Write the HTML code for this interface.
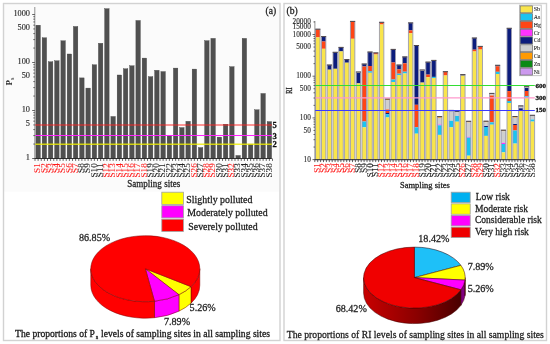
<!DOCTYPE html>
<html><head><meta charset="utf-8"><title>Ps and RI of sampling sites</title>
<style>
html,body{margin:0;padding:0;background:#fff;}
body{width:550px;height:344px;overflow:hidden;}
svg{display:block;font-family:"Liberation Serif", "Times New Roman", serif;}
</style></head><body>
<svg width="550" height="344" viewBox="0 0 550 344">
<rect x="4.2" y="4.2" width="275" height="187.4" fill="#fbfbfb"/>
<rect x="3.5" y="3.5" width="276.5" height="337" fill="none" stroke="#d2d2d2" stroke-width="1.4"/>
<rect x="284" y="3.5" width="262.5" height="337" fill="none" stroke="#d2d2d2" stroke-width="1.4"/>
<rect x="35.90" y="25.20" width="4.45" height="133.30" fill="#505050" stroke="#3a3a3a" stroke-width="0.35"/>
<rect x="42.15" y="37.80" width="4.45" height="120.70" fill="#505050" stroke="#3a3a3a" stroke-width="0.35"/>
<rect x="48.40" y="61.80" width="4.45" height="96.70" fill="#505050" stroke="#3a3a3a" stroke-width="0.35"/>
<rect x="54.65" y="60.80" width="4.45" height="97.70" fill="#505050" stroke="#3a3a3a" stroke-width="0.35"/>
<rect x="60.90" y="40.80" width="4.45" height="117.70" fill="#505050" stroke="#3a3a3a" stroke-width="0.35"/>
<rect x="67.15" y="54.00" width="4.45" height="104.50" fill="#505050" stroke="#3a3a3a" stroke-width="0.35"/>
<rect x="73.40" y="26.50" width="4.45" height="132.00" fill="#505050" stroke="#3a3a3a" stroke-width="0.35"/>
<rect x="79.65" y="77.90" width="4.45" height="80.60" fill="#505050" stroke="#3a3a3a" stroke-width="0.35"/>
<rect x="85.90" y="88.10" width="4.45" height="70.40" fill="#505050" stroke="#3a3a3a" stroke-width="0.35"/>
<rect x="92.15" y="64.80" width="4.45" height="93.70" fill="#505050" stroke="#3a3a3a" stroke-width="0.35"/>
<rect x="98.40" y="43.30" width="4.45" height="115.20" fill="#505050" stroke="#3a3a3a" stroke-width="0.35"/>
<rect x="104.65" y="8.70" width="4.45" height="149.80" fill="#505050" stroke="#3a3a3a" stroke-width="0.35"/>
<rect x="110.90" y="116.50" width="4.45" height="42.00" fill="#505050" stroke="#3a3a3a" stroke-width="0.35"/>
<rect x="117.15" y="75.00" width="4.45" height="83.50" fill="#505050" stroke="#3a3a3a" stroke-width="0.35"/>
<rect x="123.40" y="68.80" width="4.45" height="89.70" fill="#505050" stroke="#3a3a3a" stroke-width="0.35"/>
<rect x="129.65" y="65.80" width="4.45" height="92.70" fill="#505050" stroke="#3a3a3a" stroke-width="0.35"/>
<rect x="135.90" y="20.50" width="4.45" height="138.00" fill="#505050" stroke="#3a3a3a" stroke-width="0.35"/>
<rect x="142.15" y="58.10" width="4.45" height="100.40" fill="#505050" stroke="#3a3a3a" stroke-width="0.35"/>
<rect x="148.40" y="76.70" width="4.45" height="81.80" fill="#505050" stroke="#3a3a3a" stroke-width="0.35"/>
<rect x="154.65" y="70.30" width="4.45" height="88.20" fill="#505050" stroke="#3a3a3a" stroke-width="0.35"/>
<rect x="160.90" y="71.60" width="4.45" height="86.90" fill="#505050" stroke="#3a3a3a" stroke-width="0.35"/>
<rect x="167.15" y="135.70" width="4.45" height="22.80" fill="#505050" stroke="#3a3a3a" stroke-width="0.35"/>
<rect x="173.40" y="68.10" width="4.45" height="90.40" fill="#505050" stroke="#3a3a3a" stroke-width="0.35"/>
<rect x="179.65" y="127.60" width="4.45" height="30.90" fill="#505050" stroke="#3a3a3a" stroke-width="0.35"/>
<rect x="185.90" y="121.30" width="4.45" height="37.20" fill="#505050" stroke="#3a3a3a" stroke-width="0.35"/>
<rect x="192.15" y="69.10" width="4.45" height="89.40" fill="#505050" stroke="#3a3a3a" stroke-width="0.35"/>
<rect x="198.40" y="147.60" width="4.45" height="10.90" fill="#505050" stroke="#3a3a3a" stroke-width="0.35"/>
<rect x="204.65" y="40.70" width="4.45" height="117.80" fill="#505050" stroke="#3a3a3a" stroke-width="0.35"/>
<rect x="210.90" y="38.40" width="4.45" height="120.10" fill="#505050" stroke="#3a3a3a" stroke-width="0.35"/>
<rect x="217.15" y="137.10" width="4.45" height="21.40" fill="#505050" stroke="#3a3a3a" stroke-width="0.35"/>
<rect x="223.40" y="124.20" width="4.45" height="34.30" fill="#505050" stroke="#3a3a3a" stroke-width="0.35"/>
<rect x="229.65" y="66.70" width="4.45" height="91.80" fill="#505050" stroke="#3a3a3a" stroke-width="0.35"/>
<rect x="235.90" y="155.50" width="4.45" height="3.00" fill="#505050" stroke="#3a3a3a" stroke-width="0.35"/>
<rect x="242.15" y="38.40" width="4.45" height="120.10" fill="#505050" stroke="#3a3a3a" stroke-width="0.35"/>
<rect x="248.40" y="144.10" width="4.45" height="14.40" fill="#505050" stroke="#3a3a3a" stroke-width="0.35"/>
<rect x="254.65" y="109.80" width="4.45" height="48.70" fill="#505050" stroke="#3a3a3a" stroke-width="0.35"/>
<rect x="260.90" y="93.50" width="4.45" height="65.00" fill="#505050" stroke="#3a3a3a" stroke-width="0.35"/>
<rect x="267.15" y="121.60" width="4.45" height="36.90" fill="#505050" stroke="#3a3a3a" stroke-width="0.35"/>
<line x1="35" y1="125" x2="271.8" y2="125" stroke="#ff2020" stroke-width="1.3" stroke-opacity="0.62"/>
<line x1="35" y1="135.5" x2="271.8" y2="135.5" stroke="#ff22ff" stroke-width="1.1" stroke-opacity="1"/>
<line x1="35" y1="144.2" x2="271.8" y2="144.2" stroke="#eeee00" stroke-width="1.4" stroke-opacity="0.8"/>
<line x1="34.8" y1="7" x2="34.8" y2="159.0" stroke="#777" stroke-width="0.8"/>
<line x1="34.8" y1="158.5" x2="271.8" y2="158.5" stroke="#222" stroke-width="0.9"/>
<line x1="32.20" y1="158.50" x2="34.8" y2="158.50" stroke="#222" stroke-width="0.7"/>
<line x1="33.30" y1="144.05" x2="34.8" y2="144.05" stroke="#222" stroke-width="0.7"/>
<line x1="33.30" y1="135.60" x2="34.8" y2="135.60" stroke="#222" stroke-width="0.7"/>
<line x1="33.30" y1="129.60" x2="34.8" y2="129.60" stroke="#222" stroke-width="0.7"/>
<line x1="33.30" y1="124.95" x2="34.8" y2="124.95" stroke="#222" stroke-width="0.7"/>
<line x1="33.30" y1="121.15" x2="34.8" y2="121.15" stroke="#222" stroke-width="0.7"/>
<line x1="33.30" y1="117.94" x2="34.8" y2="117.94" stroke="#222" stroke-width="0.7"/>
<line x1="33.30" y1="115.15" x2="34.8" y2="115.15" stroke="#222" stroke-width="0.7"/>
<line x1="33.30" y1="112.70" x2="34.8" y2="112.70" stroke="#222" stroke-width="0.7"/>
<line x1="32.20" y1="110.50" x2="34.8" y2="110.50" stroke="#222" stroke-width="0.7"/>
<line x1="33.30" y1="96.05" x2="34.8" y2="96.05" stroke="#222" stroke-width="0.7"/>
<line x1="33.30" y1="87.60" x2="34.8" y2="87.60" stroke="#222" stroke-width="0.7"/>
<line x1="33.30" y1="81.60" x2="34.8" y2="81.60" stroke="#222" stroke-width="0.7"/>
<line x1="33.30" y1="76.95" x2="34.8" y2="76.95" stroke="#222" stroke-width="0.7"/>
<line x1="33.30" y1="73.15" x2="34.8" y2="73.15" stroke="#222" stroke-width="0.7"/>
<line x1="33.30" y1="69.94" x2="34.8" y2="69.94" stroke="#222" stroke-width="0.7"/>
<line x1="33.30" y1="67.15" x2="34.8" y2="67.15" stroke="#222" stroke-width="0.7"/>
<line x1="33.30" y1="64.70" x2="34.8" y2="64.70" stroke="#222" stroke-width="0.7"/>
<line x1="32.20" y1="62.50" x2="34.8" y2="62.50" stroke="#222" stroke-width="0.7"/>
<line x1="33.30" y1="48.05" x2="34.8" y2="48.05" stroke="#222" stroke-width="0.7"/>
<line x1="33.30" y1="39.60" x2="34.8" y2="39.60" stroke="#222" stroke-width="0.7"/>
<line x1="33.30" y1="33.60" x2="34.8" y2="33.60" stroke="#222" stroke-width="0.7"/>
<line x1="33.30" y1="28.95" x2="34.8" y2="28.95" stroke="#222" stroke-width="0.7"/>
<line x1="33.30" y1="25.15" x2="34.8" y2="25.15" stroke="#222" stroke-width="0.7"/>
<line x1="33.30" y1="21.94" x2="34.8" y2="21.94" stroke="#222" stroke-width="0.7"/>
<line x1="33.30" y1="19.15" x2="34.8" y2="19.15" stroke="#222" stroke-width="0.7"/>
<line x1="33.30" y1="16.70" x2="34.8" y2="16.70" stroke="#222" stroke-width="0.7"/>
<line x1="32.20" y1="14.50" x2="34.8" y2="14.50" stroke="#222" stroke-width="0.7"/>
<line x1="35.00" y1="158.5" x2="35.00" y2="160.9" stroke="#222" stroke-width="0.7"/>
<line x1="38.12" y1="158.5" x2="38.12" y2="160.9" stroke="#222" stroke-width="0.7"/>
<line x1="41.25" y1="158.5" x2="41.25" y2="160.9" stroke="#222" stroke-width="0.7"/>
<line x1="44.38" y1="158.5" x2="44.38" y2="160.9" stroke="#222" stroke-width="0.7"/>
<line x1="47.50" y1="158.5" x2="47.50" y2="160.9" stroke="#222" stroke-width="0.7"/>
<line x1="50.62" y1="158.5" x2="50.62" y2="160.9" stroke="#222" stroke-width="0.7"/>
<line x1="53.75" y1="158.5" x2="53.75" y2="160.9" stroke="#222" stroke-width="0.7"/>
<line x1="56.88" y1="158.5" x2="56.88" y2="160.9" stroke="#222" stroke-width="0.7"/>
<line x1="60.00" y1="158.5" x2="60.00" y2="160.9" stroke="#222" stroke-width="0.7"/>
<line x1="63.12" y1="158.5" x2="63.12" y2="160.9" stroke="#222" stroke-width="0.7"/>
<line x1="66.25" y1="158.5" x2="66.25" y2="160.9" stroke="#222" stroke-width="0.7"/>
<line x1="69.38" y1="158.5" x2="69.38" y2="160.9" stroke="#222" stroke-width="0.7"/>
<line x1="72.50" y1="158.5" x2="72.50" y2="160.9" stroke="#222" stroke-width="0.7"/>
<line x1="75.62" y1="158.5" x2="75.62" y2="160.9" stroke="#222" stroke-width="0.7"/>
<line x1="78.75" y1="158.5" x2="78.75" y2="160.9" stroke="#222" stroke-width="0.7"/>
<line x1="81.88" y1="158.5" x2="81.88" y2="160.9" stroke="#222" stroke-width="0.7"/>
<line x1="85.00" y1="158.5" x2="85.00" y2="160.9" stroke="#222" stroke-width="0.7"/>
<line x1="88.12" y1="158.5" x2="88.12" y2="160.9" stroke="#222" stroke-width="0.7"/>
<line x1="91.25" y1="158.5" x2="91.25" y2="160.9" stroke="#222" stroke-width="0.7"/>
<line x1="94.38" y1="158.5" x2="94.38" y2="160.9" stroke="#222" stroke-width="0.7"/>
<line x1="97.50" y1="158.5" x2="97.50" y2="160.9" stroke="#222" stroke-width="0.7"/>
<line x1="100.62" y1="158.5" x2="100.62" y2="160.9" stroke="#222" stroke-width="0.7"/>
<line x1="103.75" y1="158.5" x2="103.75" y2="160.9" stroke="#222" stroke-width="0.7"/>
<line x1="106.88" y1="158.5" x2="106.88" y2="160.9" stroke="#222" stroke-width="0.7"/>
<line x1="110.00" y1="158.5" x2="110.00" y2="160.9" stroke="#222" stroke-width="0.7"/>
<line x1="113.12" y1="158.5" x2="113.12" y2="160.9" stroke="#222" stroke-width="0.7"/>
<line x1="116.25" y1="158.5" x2="116.25" y2="160.9" stroke="#222" stroke-width="0.7"/>
<line x1="119.38" y1="158.5" x2="119.38" y2="160.9" stroke="#222" stroke-width="0.7"/>
<line x1="122.50" y1="158.5" x2="122.50" y2="160.9" stroke="#222" stroke-width="0.7"/>
<line x1="125.62" y1="158.5" x2="125.62" y2="160.9" stroke="#222" stroke-width="0.7"/>
<line x1="128.75" y1="158.5" x2="128.75" y2="160.9" stroke="#222" stroke-width="0.7"/>
<line x1="131.88" y1="158.5" x2="131.88" y2="160.9" stroke="#222" stroke-width="0.7"/>
<line x1="135.00" y1="158.5" x2="135.00" y2="160.9" stroke="#222" stroke-width="0.7"/>
<line x1="138.12" y1="158.5" x2="138.12" y2="160.9" stroke="#222" stroke-width="0.7"/>
<line x1="141.25" y1="158.5" x2="141.25" y2="160.9" stroke="#222" stroke-width="0.7"/>
<line x1="144.38" y1="158.5" x2="144.38" y2="160.9" stroke="#222" stroke-width="0.7"/>
<line x1="147.50" y1="158.5" x2="147.50" y2="160.9" stroke="#222" stroke-width="0.7"/>
<line x1="150.62" y1="158.5" x2="150.62" y2="160.9" stroke="#222" stroke-width="0.7"/>
<line x1="153.75" y1="158.5" x2="153.75" y2="160.9" stroke="#222" stroke-width="0.7"/>
<line x1="156.88" y1="158.5" x2="156.88" y2="160.9" stroke="#222" stroke-width="0.7"/>
<line x1="160.00" y1="158.5" x2="160.00" y2="160.9" stroke="#222" stroke-width="0.7"/>
<line x1="163.12" y1="158.5" x2="163.12" y2="160.9" stroke="#222" stroke-width="0.7"/>
<line x1="166.25" y1="158.5" x2="166.25" y2="160.9" stroke="#222" stroke-width="0.7"/>
<line x1="169.38" y1="158.5" x2="169.38" y2="160.9" stroke="#222" stroke-width="0.7"/>
<line x1="172.50" y1="158.5" x2="172.50" y2="160.9" stroke="#222" stroke-width="0.7"/>
<line x1="175.62" y1="158.5" x2="175.62" y2="160.9" stroke="#222" stroke-width="0.7"/>
<line x1="178.75" y1="158.5" x2="178.75" y2="160.9" stroke="#222" stroke-width="0.7"/>
<line x1="181.88" y1="158.5" x2="181.88" y2="160.9" stroke="#222" stroke-width="0.7"/>
<line x1="185.00" y1="158.5" x2="185.00" y2="160.9" stroke="#222" stroke-width="0.7"/>
<line x1="188.12" y1="158.5" x2="188.12" y2="160.9" stroke="#222" stroke-width="0.7"/>
<line x1="191.25" y1="158.5" x2="191.25" y2="160.9" stroke="#222" stroke-width="0.7"/>
<line x1="194.38" y1="158.5" x2="194.38" y2="160.9" stroke="#222" stroke-width="0.7"/>
<line x1="197.50" y1="158.5" x2="197.50" y2="160.9" stroke="#222" stroke-width="0.7"/>
<line x1="200.62" y1="158.5" x2="200.62" y2="160.9" stroke="#222" stroke-width="0.7"/>
<line x1="203.75" y1="158.5" x2="203.75" y2="160.9" stroke="#222" stroke-width="0.7"/>
<line x1="206.88" y1="158.5" x2="206.88" y2="160.9" stroke="#222" stroke-width="0.7"/>
<line x1="210.00" y1="158.5" x2="210.00" y2="160.9" stroke="#222" stroke-width="0.7"/>
<line x1="213.12" y1="158.5" x2="213.12" y2="160.9" stroke="#222" stroke-width="0.7"/>
<line x1="216.25" y1="158.5" x2="216.25" y2="160.9" stroke="#222" stroke-width="0.7"/>
<line x1="219.38" y1="158.5" x2="219.38" y2="160.9" stroke="#222" stroke-width="0.7"/>
<line x1="222.50" y1="158.5" x2="222.50" y2="160.9" stroke="#222" stroke-width="0.7"/>
<line x1="225.62" y1="158.5" x2="225.62" y2="160.9" stroke="#222" stroke-width="0.7"/>
<line x1="228.75" y1="158.5" x2="228.75" y2="160.9" stroke="#222" stroke-width="0.7"/>
<line x1="231.88" y1="158.5" x2="231.88" y2="160.9" stroke="#222" stroke-width="0.7"/>
<line x1="235.00" y1="158.5" x2="235.00" y2="160.9" stroke="#222" stroke-width="0.7"/>
<line x1="238.12" y1="158.5" x2="238.12" y2="160.9" stroke="#222" stroke-width="0.7"/>
<line x1="241.25" y1="158.5" x2="241.25" y2="160.9" stroke="#222" stroke-width="0.7"/>
<line x1="244.38" y1="158.5" x2="244.38" y2="160.9" stroke="#222" stroke-width="0.7"/>
<line x1="247.50" y1="158.5" x2="247.50" y2="160.9" stroke="#222" stroke-width="0.7"/>
<line x1="250.62" y1="158.5" x2="250.62" y2="160.9" stroke="#222" stroke-width="0.7"/>
<line x1="253.75" y1="158.5" x2="253.75" y2="160.9" stroke="#222" stroke-width="0.7"/>
<line x1="256.88" y1="158.5" x2="256.88" y2="160.9" stroke="#222" stroke-width="0.7"/>
<line x1="260.00" y1="158.5" x2="260.00" y2="160.9" stroke="#222" stroke-width="0.7"/>
<line x1="263.12" y1="158.5" x2="263.12" y2="160.9" stroke="#222" stroke-width="0.7"/>
<line x1="266.25" y1="158.5" x2="266.25" y2="160.9" stroke="#222" stroke-width="0.7"/>
<line x1="269.38" y1="158.5" x2="269.38" y2="160.9" stroke="#222" stroke-width="0.7"/>
<line x1="272.50" y1="158.5" x2="272.50" y2="160.9" stroke="#222" stroke-width="0.7"/>
<text x="30.00" y="15.70" font-size="8.3" text-anchor="end" fill="#2a2a2a" stroke="#2a2a2a" stroke-width="0.15" font-weight="normal" >1000</text>
<text x="30.00" y="29.60" font-size="8.3" text-anchor="end" fill="#2a2a2a" stroke="#2a2a2a" stroke-width="0.15" font-weight="normal" >500</text>
<text x="30.00" y="64.00" font-size="8.3" text-anchor="end" fill="#2a2a2a" stroke="#2a2a2a" stroke-width="0.15" font-weight="normal" >100</text>
<text x="30.00" y="78.20" font-size="8.3" text-anchor="end" fill="#2a2a2a" stroke="#2a2a2a" stroke-width="0.15" font-weight="normal" >50</text>
<text x="30.00" y="111.60" font-size="8.3" text-anchor="end" fill="#2a2a2a" stroke="#2a2a2a" stroke-width="0.15" font-weight="normal" >10</text>
<text x="30.00" y="126.30" font-size="8.3" text-anchor="end" fill="#2a2a2a" stroke="#2a2a2a" stroke-width="0.15" font-weight="normal" >5</text>
<text x="30.00" y="159.60" font-size="8.3" text-anchor="end" fill="#2a2a2a" stroke="#2a2a2a" stroke-width="0.15" font-weight="normal" >1</text>
<text x="272.60" y="128.30" font-size="8.6" text-anchor="start" fill="#111" stroke="#111" stroke-width="0.27" font-weight="bold" >5</text>
<text x="272.60" y="138.90" font-size="8.6" text-anchor="start" fill="#111" stroke="#111" stroke-width="0.27" font-weight="bold" >3</text>
<text x="272.60" y="147.30" font-size="8.6" text-anchor="start" fill="#111" stroke="#111" stroke-width="0.27" font-weight="bold" >2</text>
<text transform="translate(40.38,163.2) rotate(-90) scale(1,0.9)" font-size="9.2" text-anchor="end" fill="#ff1a1a" stroke="#ff1a1a" stroke-width="0.06">S1</text>
<text transform="translate(46.62,163.2) rotate(-90) scale(1,0.9)" font-size="9.2" text-anchor="end" fill="#ff1a1a" stroke="#ff1a1a" stroke-width="0.06">S2</text>
<text transform="translate(52.88,163.2) rotate(-90) scale(1,0.9)" font-size="9.2" text-anchor="end" fill="#ff1a1a" stroke="#ff1a1a" stroke-width="0.06">S3</text>
<text transform="translate(59.12,163.2) rotate(-90) scale(1,0.9)" font-size="9.2" text-anchor="end" fill="#ff1a1a" stroke="#ff1a1a" stroke-width="0.06">S4</text>
<text transform="translate(65.38,163.2) rotate(-90) scale(1,0.9)" font-size="9.2" text-anchor="end" fill="#ff1a1a" stroke="#ff1a1a" stroke-width="0.06">S5</text>
<text transform="translate(71.62,163.2) rotate(-90) scale(1,0.9)" font-size="9.2" text-anchor="end" fill="#ff1a1a" stroke="#ff1a1a" stroke-width="0.06">S6</text>
<text transform="translate(77.88,163.2) rotate(-90) scale(1,0.9)" font-size="9.2" text-anchor="end" fill="#ff1a1a" stroke="#ff1a1a" stroke-width="0.06">S7</text>
<text transform="translate(84.12,163.2) rotate(-90) scale(1,0.9)" font-size="9.2" text-anchor="end" fill="#222" stroke="#222" stroke-width="0.06">S8</text>
<text transform="translate(90.38,163.2) rotate(-90) scale(1,0.9)" font-size="9.2" text-anchor="end" fill="#222" stroke="#222" stroke-width="0.06">S9</text>
<text transform="translate(96.62,163.2) rotate(-90) scale(1,0.9)" font-size="9.2" text-anchor="end" fill="#222" stroke="#222" stroke-width="0.06">S10</text>
<text transform="translate(102.88,163.2) rotate(-90) scale(1,0.9)" font-size="9.2" text-anchor="end" fill="#222" stroke="#222" stroke-width="0.06">S11</text>
<text transform="translate(109.12,163.2) rotate(-90) scale(1,0.9)" font-size="9.2" text-anchor="end" fill="#ff1a1a" stroke="#ff1a1a" stroke-width="0.06">S12</text>
<text transform="translate(115.38,163.2) rotate(-90) scale(1,0.9)" font-size="9.2" text-anchor="end" fill="#ff1a1a" stroke="#ff1a1a" stroke-width="0.06">S13</text>
<text transform="translate(121.62,163.2) rotate(-90) scale(1,0.9)" font-size="9.2" text-anchor="end" fill="#ff1a1a" stroke="#ff1a1a" stroke-width="0.06">S14</text>
<text transform="translate(127.88,163.2) rotate(-90) scale(1,0.9)" font-size="9.2" text-anchor="end" fill="#ff1a1a" stroke="#ff1a1a" stroke-width="0.06">S15</text>
<text transform="translate(134.12,163.2) rotate(-90) scale(1,0.9)" font-size="9.2" text-anchor="end" fill="#ff1a1a" stroke="#ff1a1a" stroke-width="0.06">S16</text>
<text transform="translate(140.38,163.2) rotate(-90) scale(1,0.9)" font-size="9.2" text-anchor="end" fill="#ff1a1a" stroke="#ff1a1a" stroke-width="0.06">S17</text>
<text transform="translate(146.62,163.2) rotate(-90) scale(1,0.9)" font-size="9.2" text-anchor="end" fill="#ff1a1a" stroke="#ff1a1a" stroke-width="0.06">S18</text>
<text transform="translate(152.88,163.2) rotate(-90) scale(1,0.9)" font-size="9.2" text-anchor="end" fill="#222" stroke="#222" stroke-width="0.06">S19</text>
<text transform="translate(159.12,163.2) rotate(-90) scale(1,0.9)" font-size="9.2" text-anchor="end" fill="#222" stroke="#222" stroke-width="0.06">S20</text>
<text transform="translate(165.38,163.2) rotate(-90) scale(1,0.9)" font-size="9.2" text-anchor="end" fill="#222" stroke="#222" stroke-width="0.06">S21</text>
<text transform="translate(171.62,163.2) rotate(-90) scale(1,0.9)" font-size="9.2" text-anchor="end" fill="#222" stroke="#222" stroke-width="0.06">S22</text>
<text transform="translate(177.88,163.2) rotate(-90) scale(1,0.9)" font-size="9.2" text-anchor="end" fill="#222" stroke="#222" stroke-width="0.06">S23</text>
<text transform="translate(184.12,163.2) rotate(-90) scale(1,0.9)" font-size="9.2" text-anchor="end" fill="#222" stroke="#222" stroke-width="0.06">S24</text>
<text transform="translate(190.38,163.2) rotate(-90) scale(1,0.9)" font-size="9.2" text-anchor="end" fill="#222" stroke="#222" stroke-width="0.06">S25</text>
<text transform="translate(196.62,163.2) rotate(-90) scale(1,0.9)" font-size="9.2" text-anchor="end" fill="#ff1a1a" stroke="#ff1a1a" stroke-width="0.06">S26</text>
<text transform="translate(202.88,163.2) rotate(-90) scale(1,0.9)" font-size="9.2" text-anchor="end" fill="#222" stroke="#222" stroke-width="0.06">S27</text>
<text transform="translate(209.12,163.2) rotate(-90) scale(1,0.9)" font-size="9.2" text-anchor="end" fill="#ff1a1a" stroke="#ff1a1a" stroke-width="0.06">S28</text>
<text transform="translate(215.38,163.2) rotate(-90) scale(1,0.9)" font-size="9.2" text-anchor="end" fill="#ff1a1a" stroke="#ff1a1a" stroke-width="0.06">S29</text>
<text transform="translate(221.62,163.2) rotate(-90) scale(1,0.9)" font-size="9.2" text-anchor="end" fill="#222" stroke="#222" stroke-width="0.06">S30</text>
<text transform="translate(227.88,163.2) rotate(-90) scale(1,0.9)" font-size="9.2" text-anchor="end" fill="#222" stroke="#222" stroke-width="0.06">S31</text>
<text transform="translate(234.12,163.2) rotate(-90) scale(1,0.9)" font-size="9.2" text-anchor="end" fill="#ff1a1a" stroke="#ff1a1a" stroke-width="0.06">S32</text>
<text transform="translate(240.38,163.2) rotate(-90) scale(1,0.9)" font-size="9.2" text-anchor="end" fill="#222" stroke="#222" stroke-width="0.06">S33</text>
<text transform="translate(246.62,163.2) rotate(-90) scale(1,0.9)" font-size="9.2" text-anchor="end" fill="#222" stroke="#222" stroke-width="0.06">S34</text>
<text transform="translate(252.88,163.2) rotate(-90) scale(1,0.9)" font-size="9.2" text-anchor="end" fill="#222" stroke="#222" stroke-width="0.06">S35</text>
<text transform="translate(259.12,163.2) rotate(-90) scale(1,0.9)" font-size="9.2" text-anchor="end" fill="#222" stroke="#222" stroke-width="0.06">S36</text>
<text transform="translate(265.38,163.2) rotate(-90) scale(1,0.9)" font-size="9.2" text-anchor="end" fill="#222" stroke="#222" stroke-width="0.06">S37</text>
<text transform="translate(271.62,163.2) rotate(-90) scale(1,0.9)" font-size="9.2" text-anchor="end" fill="#222" stroke="#222" stroke-width="0.06">S38</text>
<text transform="translate(127.3,187.3) scale(0.885,1)" font-size="10.2" fill="#222" stroke="#222" stroke-width="0.27">Sampling sites</text>
<text transform="translate(11.9,85.6) rotate(-90)" font-size="9" fill="#222" font-weight="bold">P<tspan font-size="6.3" dy="2.5" font-weight="normal">s</tspan></text>
<text x="265.60" y="13.60" font-size="9.5" text-anchor="start" fill="#222" stroke="#222" stroke-width="0.27" font-weight="normal" >(a)</text>
<rect x="315.60" y="29.20" width="4.45" height="8.20" fill="#ff4515"/>
<rect x="315.60" y="37.40" width="4.45" height="122.30" fill="#f9e54c"/>
<rect x="315.60" y="29.20" width="4.45" height="130.50" fill="none" stroke="#9c9cae" stroke-width="0.9"/>
<line x1="315.30" y1="29.20" x2="320.35" y2="29.20" stroke="#3a3030" stroke-width="0.8"/>
<rect x="321.40" y="36.60" width="4.45" height="4.90" fill="#0c1c7c"/>
<rect x="321.40" y="41.50" width="4.45" height="7.30" fill="#ff4515"/>
<rect x="321.40" y="48.80" width="4.45" height="110.90" fill="#f9e54c"/>
<rect x="321.40" y="36.60" width="4.45" height="123.10" fill="none" stroke="#9c9cae" stroke-width="0.9"/>
<line x1="321.10" y1="36.60" x2="326.15" y2="36.60" stroke="#3a3030" stroke-width="0.8"/>
<rect x="327.20" y="65.00" width="4.45" height="4.70" fill="#0c1c7c"/>
<rect x="327.20" y="69.70" width="4.45" height="90.00" fill="#f9e54c"/>
<rect x="327.20" y="65.00" width="4.45" height="94.70" fill="none" stroke="#9c9cae" stroke-width="0.9"/>
<line x1="326.90" y1="65.00" x2="331.95" y2="65.00" stroke="#3a3030" stroke-width="0.8"/>
<rect x="333.00" y="52.30" width="4.45" height="16.50" fill="#0c1c7c"/>
<rect x="333.00" y="68.80" width="4.45" height="90.90" fill="#f9e54c"/>
<rect x="333.00" y="52.30" width="4.45" height="107.40" fill="none" stroke="#9c9cae" stroke-width="0.9"/>
<line x1="332.70" y1="52.30" x2="337.75" y2="52.30" stroke="#3a3030" stroke-width="0.8"/>
<rect x="338.80" y="47.40" width="4.45" height="4.00" fill="#0c1c7c"/>
<rect x="338.80" y="51.40" width="4.45" height="108.30" fill="#f9e54c"/>
<rect x="338.80" y="47.40" width="4.45" height="112.30" fill="none" stroke="#9c9cae" stroke-width="0.9"/>
<line x1="338.50" y1="47.40" x2="343.55" y2="47.40" stroke="#3a3030" stroke-width="0.8"/>
<rect x="344.60" y="59.60" width="4.45" height="3.10" fill="#0c1c7c"/>
<rect x="344.60" y="62.70" width="4.45" height="97.00" fill="#f9e54c"/>
<rect x="344.60" y="59.60" width="4.45" height="100.10" fill="none" stroke="#9c9cae" stroke-width="0.9"/>
<line x1="344.30" y1="59.60" x2="349.35" y2="59.60" stroke="#3a3030" stroke-width="0.8"/>
<rect x="350.40" y="21.40" width="4.45" height="17.40" fill="#ff4515"/>
<rect x="350.40" y="38.80" width="4.45" height="120.90" fill="#f9e54c"/>
<rect x="350.40" y="21.40" width="4.45" height="138.30" fill="none" stroke="#9c9cae" stroke-width="0.9"/>
<line x1="350.10" y1="21.40" x2="355.15" y2="21.40" stroke="#3a3030" stroke-width="0.8"/>
<rect x="356.20" y="72.00" width="4.45" height="1.00" fill="#cfcfcf"/>
<rect x="356.20" y="73.00" width="4.45" height="10.40" fill="#0c1c7c"/>
<rect x="356.20" y="83.40" width="4.45" height="76.30" fill="#f9e54c"/>
<rect x="356.20" y="72.00" width="4.45" height="87.70" fill="none" stroke="#9c9cae" stroke-width="0.9"/>
<line x1="355.90" y1="72.00" x2="360.95" y2="72.00" stroke="#3a3030" stroke-width="0.8"/>
<rect x="362.00" y="64.00" width="4.45" height="2.50" fill="#0c1c7c"/>
<rect x="362.00" y="66.50" width="4.45" height="55.00" fill="#ff4515"/>
<rect x="362.00" y="121.50" width="4.45" height="5.90" fill="#1cc4f0"/>
<rect x="362.00" y="127.40" width="4.45" height="32.30" fill="#f9e54c"/>
<rect x="362.00" y="64.00" width="4.45" height="95.70" fill="none" stroke="#9c9cae" stroke-width="0.9"/>
<line x1="361.70" y1="64.00" x2="366.75" y2="64.00" stroke="#3a3030" stroke-width="0.8"/>
<rect x="367.80" y="52.00" width="4.45" height="14.00" fill="#0c1c7c"/>
<rect x="367.80" y="66.00" width="4.45" height="5.20" fill="#ff4515"/>
<rect x="367.80" y="71.20" width="4.45" height="1.60" fill="#1cc4f0"/>
<rect x="367.80" y="72.80" width="4.45" height="86.90" fill="#f9e54c"/>
<rect x="367.80" y="52.00" width="4.45" height="107.70" fill="none" stroke="#9c9cae" stroke-width="0.9"/>
<line x1="367.50" y1="52.00" x2="372.55" y2="52.00" stroke="#3a3030" stroke-width="0.8"/>
<rect x="373.60" y="52.90" width="4.45" height="1.60" fill="#ff4515"/>
<rect x="373.60" y="54.50" width="4.45" height="105.20" fill="#f9e54c"/>
<rect x="373.60" y="52.90" width="4.45" height="106.80" fill="none" stroke="#9c9cae" stroke-width="0.9"/>
<line x1="373.30" y1="52.90" x2="378.35" y2="52.90" stroke="#3a3030" stroke-width="0.8"/>
<rect x="379.40" y="22.30" width="4.45" height="2.20" fill="#ff4515"/>
<rect x="379.40" y="24.50" width="4.45" height="135.20" fill="#f9e54c"/>
<rect x="379.40" y="22.30" width="4.45" height="137.40" fill="none" stroke="#9c9cae" stroke-width="0.9"/>
<line x1="379.10" y1="22.30" x2="384.15" y2="22.30" stroke="#3a3030" stroke-width="0.8"/>
<rect x="385.20" y="99.00" width="4.45" height="1.00" fill="#ff9a00"/>
<rect x="385.20" y="100.00" width="4.45" height="9.50" fill="#cfcfcf"/>
<rect x="385.20" y="109.50" width="4.45" height="3.50" fill="#ff4515"/>
<rect x="385.20" y="113.00" width="4.45" height="1.20" fill="#0c1c7c"/>
<rect x="385.20" y="114.20" width="4.45" height="3.30" fill="#1cc4f0"/>
<rect x="385.20" y="117.50" width="4.45" height="42.20" fill="#f9e54c"/>
<rect x="385.20" y="99.00" width="4.45" height="60.70" fill="none" stroke="#9c9cae" stroke-width="0.9"/>
<line x1="384.90" y1="99.00" x2="389.95" y2="99.00" stroke="#3a3030" stroke-width="0.8"/>
<rect x="391.00" y="49.40" width="4.45" height="13.10" fill="#0c1c7c"/>
<rect x="391.00" y="62.50" width="4.45" height="17.00" fill="#ff4515"/>
<rect x="391.00" y="79.50" width="4.45" height="2.50" fill="#1cc4f0"/>
<rect x="391.00" y="82.00" width="4.45" height="77.70" fill="#f9e54c"/>
<rect x="391.00" y="49.40" width="4.45" height="110.30" fill="none" stroke="#9c9cae" stroke-width="0.9"/>
<line x1="390.70" y1="49.40" x2="395.75" y2="49.40" stroke="#3a3030" stroke-width="0.8"/>
<rect x="396.80" y="65.00" width="4.45" height="4.40" fill="#0c1c7c"/>
<rect x="396.80" y="69.40" width="4.45" height="4.30" fill="#ff4515"/>
<rect x="396.80" y="73.70" width="4.45" height="1.30" fill="#1cc4f0"/>
<rect x="396.80" y="75.00" width="4.45" height="84.70" fill="#f9e54c"/>
<rect x="396.80" y="65.00" width="4.45" height="94.70" fill="none" stroke="#9c9cae" stroke-width="0.9"/>
<line x1="396.50" y1="65.00" x2="401.55" y2="65.00" stroke="#3a3030" stroke-width="0.8"/>
<rect x="402.60" y="56.90" width="4.45" height="6.40" fill="#0c1c7c"/>
<rect x="402.60" y="63.30" width="4.45" height="8.40" fill="#ff4515"/>
<rect x="402.60" y="71.70" width="4.45" height="1.80" fill="#1cc4f0"/>
<rect x="402.60" y="73.50" width="4.45" height="86.20" fill="#f9e54c"/>
<rect x="402.60" y="56.90" width="4.45" height="102.80" fill="none" stroke="#9c9cae" stroke-width="0.9"/>
<line x1="402.30" y1="56.90" x2="407.35" y2="56.90" stroke="#3a3030" stroke-width="0.8"/>
<rect x="408.40" y="22.90" width="4.45" height="7.50" fill="#0c1c7c"/>
<rect x="408.40" y="30.40" width="4.45" height="2.90" fill="#ff4515"/>
<rect x="408.40" y="33.30" width="4.45" height="126.40" fill="#f9e54c"/>
<rect x="408.40" y="22.90" width="4.45" height="136.80" fill="none" stroke="#9c9cae" stroke-width="0.9"/>
<line x1="408.10" y1="22.90" x2="413.15" y2="22.90" stroke="#3a3030" stroke-width="0.8"/>
<rect x="414.20" y="45.50" width="4.45" height="59.30" fill="#0c1c7c"/>
<rect x="414.20" y="104.80" width="4.45" height="22.50" fill="#ff4515"/>
<rect x="414.20" y="127.30" width="4.45" height="6.40" fill="#1cc4f0"/>
<rect x="414.20" y="133.70" width="4.45" height="26.00" fill="#f9e54c"/>
<rect x="414.20" y="45.50" width="4.45" height="114.20" fill="none" stroke="#9c9cae" stroke-width="0.9"/>
<line x1="413.90" y1="45.50" x2="418.95" y2="45.50" stroke="#3a3030" stroke-width="0.8"/>
<rect x="420.00" y="70.00" width="4.45" height="1.00" fill="#cfcfcf"/>
<rect x="420.00" y="71.00" width="4.45" height="11.60" fill="#0c1c7c"/>
<rect x="420.00" y="82.60" width="4.45" height="77.10" fill="#f9e54c"/>
<rect x="420.00" y="70.00" width="4.45" height="89.70" fill="none" stroke="#9c9cae" stroke-width="0.9"/>
<line x1="419.70" y1="70.00" x2="424.75" y2="70.00" stroke="#3a3030" stroke-width="0.8"/>
<rect x="425.80" y="62.10" width="4.45" height="12.50" fill="#0c1c7c"/>
<rect x="425.80" y="74.60" width="4.45" height="2.60" fill="#ff4515"/>
<rect x="425.80" y="77.20" width="4.45" height="82.50" fill="#f9e54c"/>
<rect x="425.80" y="62.10" width="4.45" height="97.60" fill="none" stroke="#9c9cae" stroke-width="0.9"/>
<line x1="425.50" y1="62.10" x2="430.55" y2="62.10" stroke="#3a3030" stroke-width="0.8"/>
<rect x="431.60" y="60.40" width="4.45" height="16.50" fill="#0c1c7c"/>
<rect x="431.60" y="76.90" width="4.45" height="1.10" fill="#1cc4f0"/>
<rect x="431.60" y="78.00" width="4.45" height="81.70" fill="#f9e54c"/>
<rect x="431.60" y="60.40" width="4.45" height="99.30" fill="none" stroke="#9c9cae" stroke-width="0.9"/>
<line x1="431.30" y1="60.40" x2="436.35" y2="60.40" stroke="#3a3030" stroke-width="0.8"/>
<rect x="437.40" y="116.60" width="4.45" height="1.20" fill="#ff9a00"/>
<rect x="437.40" y="117.80" width="4.45" height="6.70" fill="#cfcfcf"/>
<rect x="437.40" y="124.50" width="4.45" height="0.80" fill="#ff33ff"/>
<rect x="437.40" y="125.30" width="4.45" height="9.60" fill="#1cc4f0"/>
<rect x="437.40" y="134.90" width="4.45" height="24.80" fill="#f9e54c"/>
<rect x="437.40" y="116.60" width="4.45" height="43.10" fill="none" stroke="#9c9cae" stroke-width="0.9"/>
<line x1="437.10" y1="116.60" x2="442.15" y2="116.60" stroke="#3a3030" stroke-width="0.8"/>
<rect x="443.20" y="71.70" width="4.45" height="3.80" fill="#ff4515"/>
<rect x="443.20" y="75.50" width="4.45" height="84.20" fill="#f9e54c"/>
<rect x="443.20" y="71.70" width="4.45" height="88.00" fill="none" stroke="#9c9cae" stroke-width="0.9"/>
<line x1="442.90" y1="71.70" x2="447.95" y2="71.70" stroke="#3a3030" stroke-width="0.8"/>
<rect x="449.00" y="110.40" width="4.45" height="1.10" fill="#0c1c7c"/>
<rect x="449.00" y="111.50" width="4.45" height="9.30" fill="#cfcfcf"/>
<rect x="449.00" y="120.80" width="4.45" height="6.60" fill="#1cc4f0"/>
<rect x="449.00" y="127.40" width="4.45" height="32.30" fill="#f9e54c"/>
<rect x="449.00" y="110.40" width="4.45" height="49.30" fill="none" stroke="#9c9cae" stroke-width="0.9"/>
<line x1="448.70" y1="110.40" x2="453.75" y2="110.40" stroke="#3a3030" stroke-width="0.8"/>
<rect x="454.80" y="111.00" width="4.45" height="1.00" fill="#0c1c7c"/>
<rect x="454.80" y="112.00" width="4.45" height="4.00" fill="#cfcfcf"/>
<rect x="454.80" y="116.00" width="4.45" height="5.70" fill="#1cc4f0"/>
<rect x="454.80" y="121.70" width="4.45" height="38.00" fill="#f9e54c"/>
<rect x="454.80" y="111.00" width="4.45" height="48.70" fill="none" stroke="#9c9cae" stroke-width="0.9"/>
<line x1="454.50" y1="111.00" x2="459.55" y2="111.00" stroke="#3a3030" stroke-width="0.8"/>
<rect x="460.60" y="74.60" width="4.45" height="1.00" fill="#0c1c7c"/>
<rect x="460.60" y="75.60" width="4.45" height="84.10" fill="#f9e54c"/>
<rect x="460.60" y="74.60" width="4.45" height="85.10" fill="none" stroke="#9c9cae" stroke-width="0.9"/>
<line x1="460.30" y1="74.60" x2="465.35" y2="74.60" stroke="#3a3030" stroke-width="0.8"/>
<rect x="466.40" y="121.30" width="4.45" height="1.20" fill="#ff9a00"/>
<rect x="466.40" y="122.50" width="4.45" height="14.30" fill="#cfcfcf"/>
<rect x="466.40" y="136.80" width="4.45" height="0.80" fill="#ff33ff"/>
<rect x="466.40" y="137.60" width="4.45" height="18.10" fill="#1cc4f0"/>
<rect x="466.40" y="155.70" width="4.45" height="4.00" fill="#f9e54c"/>
<rect x="466.40" y="121.30" width="4.45" height="38.40" fill="none" stroke="#9c9cae" stroke-width="0.9"/>
<line x1="466.10" y1="121.30" x2="471.15" y2="121.30" stroke="#3a3030" stroke-width="0.8"/>
<rect x="472.20" y="38.00" width="4.45" height="11.70" fill="#0c1c7c"/>
<rect x="472.20" y="49.70" width="4.45" height="1.80" fill="#ff4515"/>
<rect x="472.20" y="51.50" width="4.45" height="108.20" fill="#f9e54c"/>
<rect x="472.20" y="38.00" width="4.45" height="121.70" fill="none" stroke="#9c9cae" stroke-width="0.9"/>
<line x1="471.90" y1="38.00" x2="476.95" y2="38.00" stroke="#3a3030" stroke-width="0.8"/>
<rect x="478.00" y="46.40" width="4.45" height="3.20" fill="#ff4515"/>
<rect x="478.00" y="49.60" width="4.45" height="110.10" fill="#f9e54c"/>
<rect x="478.00" y="46.40" width="4.45" height="113.30" fill="none" stroke="#9c9cae" stroke-width="0.9"/>
<line x1="477.70" y1="46.40" x2="482.75" y2="46.40" stroke="#3a3030" stroke-width="0.8"/>
<rect x="483.80" y="121.20" width="4.45" height="1.10" fill="#ff9a00"/>
<rect x="483.80" y="122.30" width="4.45" height="3.70" fill="#cfcfcf"/>
<rect x="483.80" y="126.00" width="4.45" height="1.00" fill="#0c1c7c"/>
<rect x="483.80" y="127.00" width="4.45" height="8.90" fill="#1cc4f0"/>
<rect x="483.80" y="135.90" width="4.45" height="23.80" fill="#f9e54c"/>
<rect x="483.80" y="121.20" width="4.45" height="38.50" fill="none" stroke="#9c9cae" stroke-width="0.9"/>
<line x1="483.50" y1="121.20" x2="488.55" y2="121.20" stroke="#3a3030" stroke-width="0.8"/>
<rect x="489.60" y="93.40" width="4.45" height="2.10" fill="#cfcfcf"/>
<rect x="489.60" y="95.50" width="4.45" height="26.80" fill="#ff4515"/>
<rect x="489.60" y="122.30" width="4.45" height="2.40" fill="#1cc4f0"/>
<rect x="489.60" y="124.70" width="4.45" height="35.00" fill="#f9e54c"/>
<rect x="489.60" y="93.40" width="4.45" height="66.30" fill="none" stroke="#9c9cae" stroke-width="0.9"/>
<line x1="489.30" y1="93.40" x2="494.35" y2="93.40" stroke="#3a3030" stroke-width="0.8"/>
<rect x="495.40" y="65.30" width="4.45" height="1.00" fill="#0c1c7c"/>
<rect x="495.40" y="66.30" width="4.45" height="5.50" fill="#ff4515"/>
<rect x="495.40" y="71.80" width="4.45" height="2.20" fill="#1cc4f0"/>
<rect x="495.40" y="74.00" width="4.45" height="85.70" fill="#f9e54c"/>
<rect x="495.40" y="65.30" width="4.45" height="94.40" fill="none" stroke="#9c9cae" stroke-width="0.9"/>
<line x1="495.10" y1="65.30" x2="500.15" y2="65.30" stroke="#3a3030" stroke-width="0.8"/>
<rect x="501.20" y="130.20" width="4.45" height="1.10" fill="#ff9a00"/>
<rect x="501.20" y="131.30" width="4.45" height="11.50" fill="#cfcfcf"/>
<rect x="501.20" y="142.80" width="4.45" height="1.20" fill="#ff33ff"/>
<rect x="501.20" y="144.00" width="4.45" height="8.40" fill="#1cc4f0"/>
<rect x="501.20" y="152.40" width="4.45" height="7.30" fill="#f9e54c"/>
<rect x="501.20" y="130.20" width="4.45" height="29.50" fill="none" stroke="#9c9cae" stroke-width="0.9"/>
<line x1="500.90" y1="130.20" x2="505.95" y2="130.20" stroke="#3a3030" stroke-width="0.8"/>
<rect x="507.00" y="28.30" width="4.45" height="62.80" fill="#0c1c7c"/>
<rect x="507.00" y="91.10" width="4.45" height="9.90" fill="#ff4515"/>
<rect x="507.00" y="101.00" width="4.45" height="2.00" fill="#1cc4f0"/>
<rect x="507.00" y="103.00" width="4.45" height="56.70" fill="#f9e54c"/>
<rect x="507.00" y="28.30" width="4.45" height="131.40" fill="none" stroke="#9c9cae" stroke-width="0.9"/>
<line x1="506.70" y1="28.30" x2="511.75" y2="28.30" stroke="#3a3030" stroke-width="0.8"/>
<rect x="512.80" y="116.50" width="4.45" height="1.20" fill="#ff9a00"/>
<rect x="512.80" y="117.70" width="4.45" height="6.30" fill="#cfcfcf"/>
<rect x="512.80" y="124.00" width="4.45" height="1.00" fill="#0c1c7c"/>
<rect x="512.80" y="125.00" width="4.45" height="5.50" fill="#ff4515"/>
<rect x="512.80" y="130.50" width="4.45" height="13.10" fill="#1cc4f0"/>
<rect x="512.80" y="143.60" width="4.45" height="16.10" fill="#f9e54c"/>
<rect x="512.80" y="116.50" width="4.45" height="43.20" fill="none" stroke="#9c9cae" stroke-width="0.9"/>
<line x1="512.50" y1="116.50" x2="517.55" y2="116.50" stroke="#3a3030" stroke-width="0.8"/>
<rect x="518.60" y="105.90" width="4.45" height="2.40" fill="#cfcfcf"/>
<rect x="518.60" y="108.30" width="4.45" height="2.10" fill="#0c1c7c"/>
<rect x="518.60" y="110.40" width="4.45" height="49.30" fill="#f9e54c"/>
<rect x="518.60" y="105.90" width="4.45" height="53.80" fill="none" stroke="#9c9cae" stroke-width="0.9"/>
<line x1="518.30" y1="105.90" x2="523.35" y2="105.90" stroke="#3a3030" stroke-width="0.8"/>
<rect x="524.40" y="86.70" width="4.45" height="1.30" fill="#cfcfcf"/>
<rect x="524.40" y="88.00" width="4.45" height="3.00" fill="#0c1c7c"/>
<rect x="524.40" y="91.00" width="4.45" height="5.30" fill="#ff4515"/>
<rect x="524.40" y="96.30" width="4.45" height="1.70" fill="#1cc4f0"/>
<rect x="524.40" y="98.00" width="4.45" height="61.70" fill="#f9e54c"/>
<rect x="524.40" y="86.70" width="4.45" height="73.00" fill="none" stroke="#9c9cae" stroke-width="0.9"/>
<line x1="524.10" y1="86.70" x2="529.15" y2="86.70" stroke="#3a3030" stroke-width="0.8"/>
<rect x="530.20" y="115.30" width="4.45" height="4.20" fill="#cfcfcf"/>
<rect x="530.20" y="119.50" width="4.45" height="2.10" fill="#1cc4f0"/>
<rect x="530.20" y="121.60" width="4.45" height="38.10" fill="#f9e54c"/>
<rect x="530.20" y="115.30" width="4.45" height="44.40" fill="none" stroke="#9c9cae" stroke-width="0.9"/>
<line x1="529.90" y1="115.30" x2="534.95" y2="115.30" stroke="#3a3030" stroke-width="0.8"/>
<line x1="315" y1="85.5" x2="534.8" y2="85.5" stroke="#33dd33" stroke-width="1.2"/>
<line x1="315" y1="97.9" x2="534.8" y2="97.9" stroke="#ff99cc" stroke-width="1.2"/>
<line x1="315" y1="110.5" x2="534.8" y2="110.5" stroke="#3a3aff" stroke-width="1.2"/>
<line x1="314.9" y1="21" x2="314.9" y2="160.2" stroke="#777" stroke-width="0.8"/>
<line x1="314.9" y1="159.7" x2="535" y2="159.7" stroke="#222" stroke-width="0.9"/>
<line x1="312.50" y1="159.60" x2="314.9" y2="159.60" stroke="#222" stroke-width="0.7"/>
<line x1="313.50" y1="147.05" x2="314.9" y2="147.05" stroke="#222" stroke-width="0.7"/>
<line x1="313.50" y1="139.70" x2="314.9" y2="139.70" stroke="#222" stroke-width="0.7"/>
<line x1="313.50" y1="134.49" x2="314.9" y2="134.49" stroke="#222" stroke-width="0.7"/>
<line x1="313.50" y1="130.45" x2="314.9" y2="130.45" stroke="#222" stroke-width="0.7"/>
<line x1="313.50" y1="127.15" x2="314.9" y2="127.15" stroke="#222" stroke-width="0.7"/>
<line x1="313.50" y1="124.36" x2="314.9" y2="124.36" stroke="#222" stroke-width="0.7"/>
<line x1="313.50" y1="121.94" x2="314.9" y2="121.94" stroke="#222" stroke-width="0.7"/>
<line x1="313.50" y1="119.81" x2="314.9" y2="119.81" stroke="#222" stroke-width="0.7"/>
<line x1="312.50" y1="117.90" x2="314.9" y2="117.90" stroke="#222" stroke-width="0.7"/>
<line x1="313.50" y1="105.35" x2="314.9" y2="105.35" stroke="#222" stroke-width="0.7"/>
<line x1="313.50" y1="98.00" x2="314.9" y2="98.00" stroke="#222" stroke-width="0.7"/>
<line x1="313.50" y1="92.79" x2="314.9" y2="92.79" stroke="#222" stroke-width="0.7"/>
<line x1="313.50" y1="88.75" x2="314.9" y2="88.75" stroke="#222" stroke-width="0.7"/>
<line x1="313.50" y1="85.45" x2="314.9" y2="85.45" stroke="#222" stroke-width="0.7"/>
<line x1="313.50" y1="82.66" x2="314.9" y2="82.66" stroke="#222" stroke-width="0.7"/>
<line x1="313.50" y1="80.24" x2="314.9" y2="80.24" stroke="#222" stroke-width="0.7"/>
<line x1="313.50" y1="78.11" x2="314.9" y2="78.11" stroke="#222" stroke-width="0.7"/>
<line x1="312.50" y1="76.20" x2="314.9" y2="76.20" stroke="#222" stroke-width="0.7"/>
<line x1="313.50" y1="63.65" x2="314.9" y2="63.65" stroke="#222" stroke-width="0.7"/>
<line x1="313.50" y1="56.30" x2="314.9" y2="56.30" stroke="#222" stroke-width="0.7"/>
<line x1="313.50" y1="51.09" x2="314.9" y2="51.09" stroke="#222" stroke-width="0.7"/>
<line x1="313.50" y1="47.05" x2="314.9" y2="47.05" stroke="#222" stroke-width="0.7"/>
<line x1="313.50" y1="43.75" x2="314.9" y2="43.75" stroke="#222" stroke-width="0.7"/>
<line x1="313.50" y1="40.96" x2="314.9" y2="40.96" stroke="#222" stroke-width="0.7"/>
<line x1="313.50" y1="38.54" x2="314.9" y2="38.54" stroke="#222" stroke-width="0.7"/>
<line x1="313.50" y1="36.41" x2="314.9" y2="36.41" stroke="#222" stroke-width="0.7"/>
<line x1="312.50" y1="34.50" x2="314.9" y2="34.50" stroke="#222" stroke-width="0.7"/>
<line x1="313.50" y1="21.95" x2="314.9" y2="21.95" stroke="#222" stroke-width="0.7"/>
<line x1="314.80" y1="159.7" x2="314.80" y2="162.1" stroke="#222" stroke-width="0.7"/>
<line x1="317.70" y1="159.7" x2="317.70" y2="162.1" stroke="#222" stroke-width="0.7"/>
<line x1="320.60" y1="159.7" x2="320.60" y2="162.1" stroke="#222" stroke-width="0.7"/>
<line x1="323.50" y1="159.7" x2="323.50" y2="162.1" stroke="#222" stroke-width="0.7"/>
<line x1="326.40" y1="159.7" x2="326.40" y2="162.1" stroke="#222" stroke-width="0.7"/>
<line x1="329.30" y1="159.7" x2="329.30" y2="162.1" stroke="#222" stroke-width="0.7"/>
<line x1="332.20" y1="159.7" x2="332.20" y2="162.1" stroke="#222" stroke-width="0.7"/>
<line x1="335.10" y1="159.7" x2="335.10" y2="162.1" stroke="#222" stroke-width="0.7"/>
<line x1="338.00" y1="159.7" x2="338.00" y2="162.1" stroke="#222" stroke-width="0.7"/>
<line x1="340.90" y1="159.7" x2="340.90" y2="162.1" stroke="#222" stroke-width="0.7"/>
<line x1="343.80" y1="159.7" x2="343.80" y2="162.1" stroke="#222" stroke-width="0.7"/>
<line x1="346.70" y1="159.7" x2="346.70" y2="162.1" stroke="#222" stroke-width="0.7"/>
<line x1="349.60" y1="159.7" x2="349.60" y2="162.1" stroke="#222" stroke-width="0.7"/>
<line x1="352.50" y1="159.7" x2="352.50" y2="162.1" stroke="#222" stroke-width="0.7"/>
<line x1="355.40" y1="159.7" x2="355.40" y2="162.1" stroke="#222" stroke-width="0.7"/>
<line x1="358.30" y1="159.7" x2="358.30" y2="162.1" stroke="#222" stroke-width="0.7"/>
<line x1="361.20" y1="159.7" x2="361.20" y2="162.1" stroke="#222" stroke-width="0.7"/>
<line x1="364.10" y1="159.7" x2="364.10" y2="162.1" stroke="#222" stroke-width="0.7"/>
<line x1="367.00" y1="159.7" x2="367.00" y2="162.1" stroke="#222" stroke-width="0.7"/>
<line x1="369.90" y1="159.7" x2="369.90" y2="162.1" stroke="#222" stroke-width="0.7"/>
<line x1="372.80" y1="159.7" x2="372.80" y2="162.1" stroke="#222" stroke-width="0.7"/>
<line x1="375.70" y1="159.7" x2="375.70" y2="162.1" stroke="#222" stroke-width="0.7"/>
<line x1="378.60" y1="159.7" x2="378.60" y2="162.1" stroke="#222" stroke-width="0.7"/>
<line x1="381.50" y1="159.7" x2="381.50" y2="162.1" stroke="#222" stroke-width="0.7"/>
<line x1="384.40" y1="159.7" x2="384.40" y2="162.1" stroke="#222" stroke-width="0.7"/>
<line x1="387.30" y1="159.7" x2="387.30" y2="162.1" stroke="#222" stroke-width="0.7"/>
<line x1="390.20" y1="159.7" x2="390.20" y2="162.1" stroke="#222" stroke-width="0.7"/>
<line x1="393.10" y1="159.7" x2="393.10" y2="162.1" stroke="#222" stroke-width="0.7"/>
<line x1="396.00" y1="159.7" x2="396.00" y2="162.1" stroke="#222" stroke-width="0.7"/>
<line x1="398.90" y1="159.7" x2="398.90" y2="162.1" stroke="#222" stroke-width="0.7"/>
<line x1="401.80" y1="159.7" x2="401.80" y2="162.1" stroke="#222" stroke-width="0.7"/>
<line x1="404.70" y1="159.7" x2="404.70" y2="162.1" stroke="#222" stroke-width="0.7"/>
<line x1="407.60" y1="159.7" x2="407.60" y2="162.1" stroke="#222" stroke-width="0.7"/>
<line x1="410.50" y1="159.7" x2="410.50" y2="162.1" stroke="#222" stroke-width="0.7"/>
<line x1="413.40" y1="159.7" x2="413.40" y2="162.1" stroke="#222" stroke-width="0.7"/>
<line x1="416.30" y1="159.7" x2="416.30" y2="162.1" stroke="#222" stroke-width="0.7"/>
<line x1="419.20" y1="159.7" x2="419.20" y2="162.1" stroke="#222" stroke-width="0.7"/>
<line x1="422.10" y1="159.7" x2="422.10" y2="162.1" stroke="#222" stroke-width="0.7"/>
<line x1="425.00" y1="159.7" x2="425.00" y2="162.1" stroke="#222" stroke-width="0.7"/>
<line x1="427.90" y1="159.7" x2="427.90" y2="162.1" stroke="#222" stroke-width="0.7"/>
<line x1="430.80" y1="159.7" x2="430.80" y2="162.1" stroke="#222" stroke-width="0.7"/>
<line x1="433.70" y1="159.7" x2="433.70" y2="162.1" stroke="#222" stroke-width="0.7"/>
<line x1="436.60" y1="159.7" x2="436.60" y2="162.1" stroke="#222" stroke-width="0.7"/>
<line x1="439.50" y1="159.7" x2="439.50" y2="162.1" stroke="#222" stroke-width="0.7"/>
<line x1="442.40" y1="159.7" x2="442.40" y2="162.1" stroke="#222" stroke-width="0.7"/>
<line x1="445.30" y1="159.7" x2="445.30" y2="162.1" stroke="#222" stroke-width="0.7"/>
<line x1="448.20" y1="159.7" x2="448.20" y2="162.1" stroke="#222" stroke-width="0.7"/>
<line x1="451.10" y1="159.7" x2="451.10" y2="162.1" stroke="#222" stroke-width="0.7"/>
<line x1="454.00" y1="159.7" x2="454.00" y2="162.1" stroke="#222" stroke-width="0.7"/>
<line x1="456.90" y1="159.7" x2="456.90" y2="162.1" stroke="#222" stroke-width="0.7"/>
<line x1="459.80" y1="159.7" x2="459.80" y2="162.1" stroke="#222" stroke-width="0.7"/>
<line x1="462.70" y1="159.7" x2="462.70" y2="162.1" stroke="#222" stroke-width="0.7"/>
<line x1="465.60" y1="159.7" x2="465.60" y2="162.1" stroke="#222" stroke-width="0.7"/>
<line x1="468.50" y1="159.7" x2="468.50" y2="162.1" stroke="#222" stroke-width="0.7"/>
<line x1="471.40" y1="159.7" x2="471.40" y2="162.1" stroke="#222" stroke-width="0.7"/>
<line x1="474.30" y1="159.7" x2="474.30" y2="162.1" stroke="#222" stroke-width="0.7"/>
<line x1="477.20" y1="159.7" x2="477.20" y2="162.1" stroke="#222" stroke-width="0.7"/>
<line x1="480.10" y1="159.7" x2="480.10" y2="162.1" stroke="#222" stroke-width="0.7"/>
<line x1="483.00" y1="159.7" x2="483.00" y2="162.1" stroke="#222" stroke-width="0.7"/>
<line x1="485.90" y1="159.7" x2="485.90" y2="162.1" stroke="#222" stroke-width="0.7"/>
<line x1="488.80" y1="159.7" x2="488.80" y2="162.1" stroke="#222" stroke-width="0.7"/>
<line x1="491.70" y1="159.7" x2="491.70" y2="162.1" stroke="#222" stroke-width="0.7"/>
<line x1="494.60" y1="159.7" x2="494.60" y2="162.1" stroke="#222" stroke-width="0.7"/>
<line x1="497.50" y1="159.7" x2="497.50" y2="162.1" stroke="#222" stroke-width="0.7"/>
<line x1="500.40" y1="159.7" x2="500.40" y2="162.1" stroke="#222" stroke-width="0.7"/>
<line x1="503.30" y1="159.7" x2="503.30" y2="162.1" stroke="#222" stroke-width="0.7"/>
<line x1="506.20" y1="159.7" x2="506.20" y2="162.1" stroke="#222" stroke-width="0.7"/>
<line x1="509.10" y1="159.7" x2="509.10" y2="162.1" stroke="#222" stroke-width="0.7"/>
<line x1="512.00" y1="159.7" x2="512.00" y2="162.1" stroke="#222" stroke-width="0.7"/>
<line x1="514.90" y1="159.7" x2="514.90" y2="162.1" stroke="#222" stroke-width="0.7"/>
<line x1="517.80" y1="159.7" x2="517.80" y2="162.1" stroke="#222" stroke-width="0.7"/>
<line x1="520.70" y1="159.7" x2="520.70" y2="162.1" stroke="#222" stroke-width="0.7"/>
<line x1="523.60" y1="159.7" x2="523.60" y2="162.1" stroke="#222" stroke-width="0.7"/>
<line x1="526.50" y1="159.7" x2="526.50" y2="162.1" stroke="#222" stroke-width="0.7"/>
<line x1="529.40" y1="159.7" x2="529.40" y2="162.1" stroke="#222" stroke-width="0.7"/>
<line x1="532.30" y1="159.7" x2="532.30" y2="162.1" stroke="#222" stroke-width="0.7"/>
<line x1="535.20" y1="159.7" x2="535.20" y2="162.1" stroke="#222" stroke-width="0.7"/>
<text x="310.80" y="23.70" font-size="7.3" text-anchor="end" fill="#2a2a2a" stroke="#2a2a2a" stroke-width="0.12" font-weight="normal" >20000</text>
<text x="310.80" y="28.80" font-size="7.3" text-anchor="end" fill="#2a2a2a" stroke="#2a2a2a" stroke-width="0.12" font-weight="normal" >15000</text>
<text x="310.80" y="36.60" font-size="7.3" text-anchor="end" fill="#2a2a2a" stroke="#2a2a2a" stroke-width="0.12" font-weight="normal" >10000</text>
<text x="310.80" y="49.20" font-size="7.3" text-anchor="end" fill="#2a2a2a" stroke="#2a2a2a" stroke-width="0.12" font-weight="normal" >5000</text>
<text x="310.80" y="78.20" font-size="7.3" text-anchor="end" fill="#2a2a2a" stroke="#2a2a2a" stroke-width="0.12" font-weight="normal" >1000</text>
<text x="310.80" y="90.80" font-size="7.3" text-anchor="end" fill="#2a2a2a" stroke="#2a2a2a" stroke-width="0.12" font-weight="normal" >500</text>
<text x="310.80" y="120.30" font-size="7.3" text-anchor="end" fill="#2a2a2a" stroke="#2a2a2a" stroke-width="0.12" font-weight="normal" >100</text>
<text x="310.80" y="132.80" font-size="7.3" text-anchor="end" fill="#2a2a2a" stroke="#2a2a2a" stroke-width="0.12" font-weight="normal" >50</text>
<text x="310.80" y="161.60" font-size="7.3" text-anchor="end" fill="#2a2a2a" stroke="#2a2a2a" stroke-width="0.12" font-weight="normal" >10</text>
<text x="535.40" y="87.70" font-size="7.0" text-anchor="start" fill="#111" stroke="#111" stroke-width="0.27" font-weight="bold" >600</text>
<text x="535.40" y="99.90" font-size="7.0" text-anchor="start" fill="#111" stroke="#111" stroke-width="0.27" font-weight="bold" >300</text>
<text x="535.40" y="112.30" font-size="7.0" text-anchor="start" fill="#111" stroke="#111" stroke-width="0.27" font-weight="bold" >150</text>
<text transform="translate(320.43,163.2) rotate(-90) scale(1,0.9)" font-size="9.0" text-anchor="end" fill="#ff1a1a" stroke="#ff1a1a" stroke-width="0.06">S1</text>
<text transform="translate(326.23,163.2) rotate(-90) scale(1,0.9)" font-size="9.0" text-anchor="end" fill="#ff1a1a" stroke="#ff1a1a" stroke-width="0.06">S2</text>
<text transform="translate(332.03,163.2) rotate(-90) scale(1,0.9)" font-size="9.0" text-anchor="end" fill="#ff1a1a" stroke="#ff1a1a" stroke-width="0.06">S3</text>
<text transform="translate(337.83,163.2) rotate(-90) scale(1,0.9)" font-size="9.0" text-anchor="end" fill="#ff1a1a" stroke="#ff1a1a" stroke-width="0.06">S4</text>
<text transform="translate(343.63,163.2) rotate(-90) scale(1,0.9)" font-size="9.0" text-anchor="end" fill="#ff1a1a" stroke="#ff1a1a" stroke-width="0.06">S5</text>
<text transform="translate(349.43,163.2) rotate(-90) scale(1,0.9)" font-size="9.0" text-anchor="end" fill="#ff1a1a" stroke="#ff1a1a" stroke-width="0.06">S6</text>
<text transform="translate(355.23,163.2) rotate(-90) scale(1,0.9)" font-size="9.0" text-anchor="end" fill="#ff1a1a" stroke="#ff1a1a" stroke-width="0.06">S7</text>
<text transform="translate(361.03,163.2) rotate(-90) scale(1,0.9)" font-size="9.0" text-anchor="end" fill="#222" stroke="#222" stroke-width="0.06">S8</text>
<text transform="translate(366.83,163.2) rotate(-90) scale(1,0.9)" font-size="9.0" text-anchor="end" fill="#222" stroke="#222" stroke-width="0.06">S9</text>
<text transform="translate(372.63,163.2) rotate(-90) scale(1,0.9)" font-size="9.0" text-anchor="end" fill="#222" stroke="#222" stroke-width="0.06">S10</text>
<text transform="translate(378.43,163.2) rotate(-90) scale(1,0.9)" font-size="9.0" text-anchor="end" fill="#222" stroke="#222" stroke-width="0.06">S11</text>
<text transform="translate(384.23,163.2) rotate(-90) scale(1,0.9)" font-size="9.0" text-anchor="end" fill="#ff1a1a" stroke="#ff1a1a" stroke-width="0.06">S12</text>
<text transform="translate(390.03,163.2) rotate(-90) scale(1,0.9)" font-size="9.0" text-anchor="end" fill="#ff1a1a" stroke="#ff1a1a" stroke-width="0.06">S13</text>
<text transform="translate(395.83,163.2) rotate(-90) scale(1,0.9)" font-size="9.0" text-anchor="end" fill="#ff1a1a" stroke="#ff1a1a" stroke-width="0.06">S14</text>
<text transform="translate(401.63,163.2) rotate(-90) scale(1,0.9)" font-size="9.0" text-anchor="end" fill="#ff1a1a" stroke="#ff1a1a" stroke-width="0.06">S15</text>
<text transform="translate(407.43,163.2) rotate(-90) scale(1,0.9)" font-size="9.0" text-anchor="end" fill="#ff1a1a" stroke="#ff1a1a" stroke-width="0.06">S16</text>
<text transform="translate(413.23,163.2) rotate(-90) scale(1,0.9)" font-size="9.0" text-anchor="end" fill="#ff1a1a" stroke="#ff1a1a" stroke-width="0.06">S17</text>
<text transform="translate(419.03,163.2) rotate(-90) scale(1,0.9)" font-size="9.0" text-anchor="end" fill="#ff1a1a" stroke="#ff1a1a" stroke-width="0.06">S18</text>
<text transform="translate(424.83,163.2) rotate(-90) scale(1,0.9)" font-size="9.0" text-anchor="end" fill="#222" stroke="#222" stroke-width="0.06">S19</text>
<text transform="translate(430.63,163.2) rotate(-90) scale(1,0.9)" font-size="9.0" text-anchor="end" fill="#222" stroke="#222" stroke-width="0.06">S20</text>
<text transform="translate(436.43,163.2) rotate(-90) scale(1,0.9)" font-size="9.0" text-anchor="end" fill="#222" stroke="#222" stroke-width="0.06">S21</text>
<text transform="translate(442.23,163.2) rotate(-90) scale(1,0.9)" font-size="9.0" text-anchor="end" fill="#222" stroke="#222" stroke-width="0.06">S22</text>
<text transform="translate(448.03,163.2) rotate(-90) scale(1,0.9)" font-size="9.0" text-anchor="end" fill="#222" stroke="#222" stroke-width="0.06">S23</text>
<text transform="translate(453.83,163.2) rotate(-90) scale(1,0.9)" font-size="9.0" text-anchor="end" fill="#222" stroke="#222" stroke-width="0.06">S24</text>
<text transform="translate(459.63,163.2) rotate(-90) scale(1,0.9)" font-size="9.0" text-anchor="end" fill="#222" stroke="#222" stroke-width="0.06">S25</text>
<text transform="translate(465.43,163.2) rotate(-90) scale(1,0.9)" font-size="9.0" text-anchor="end" fill="#ff1a1a" stroke="#ff1a1a" stroke-width="0.06">S26</text>
<text transform="translate(471.23,163.2) rotate(-90) scale(1,0.9)" font-size="9.0" text-anchor="end" fill="#222" stroke="#222" stroke-width="0.06">S27</text>
<text transform="translate(477.03,163.2) rotate(-90) scale(1,0.9)" font-size="9.0" text-anchor="end" fill="#ff1a1a" stroke="#ff1a1a" stroke-width="0.06">S28</text>
<text transform="translate(482.83,163.2) rotate(-90) scale(1,0.9)" font-size="9.0" text-anchor="end" fill="#ff1a1a" stroke="#ff1a1a" stroke-width="0.06">S29</text>
<text transform="translate(488.63,163.2) rotate(-90) scale(1,0.9)" font-size="9.0" text-anchor="end" fill="#222" stroke="#222" stroke-width="0.06">S30</text>
<text transform="translate(494.43,163.2) rotate(-90) scale(1,0.9)" font-size="9.0" text-anchor="end" fill="#222" stroke="#222" stroke-width="0.06">S31</text>
<text transform="translate(500.23,163.2) rotate(-90) scale(1,0.9)" font-size="9.0" text-anchor="end" fill="#ff1a1a" stroke="#ff1a1a" stroke-width="0.06">S32</text>
<text transform="translate(506.03,163.2) rotate(-90) scale(1,0.9)" font-size="9.0" text-anchor="end" fill="#222" stroke="#222" stroke-width="0.06">S33</text>
<text transform="translate(511.83,163.2) rotate(-90) scale(1,0.9)" font-size="9.0" text-anchor="end" fill="#222" stroke="#222" stroke-width="0.06">S34</text>
<text transform="translate(517.62,163.2) rotate(-90) scale(1,0.9)" font-size="9.0" text-anchor="end" fill="#222" stroke="#222" stroke-width="0.06">S35</text>
<text transform="translate(523.43,163.2) rotate(-90) scale(1,0.9)" font-size="9.0" text-anchor="end" fill="#222" stroke="#222" stroke-width="0.06">S36</text>
<text transform="translate(529.23,163.2) rotate(-90) scale(1,0.9)" font-size="9.0" text-anchor="end" fill="#222" stroke="#222" stroke-width="0.06">S37</text>
<text transform="translate(535.03,163.2) rotate(-90) scale(1,0.9)" font-size="9.0" text-anchor="end" fill="#222" stroke="#222" stroke-width="0.06">S38</text>
<text x="400.00" y="188.00" font-size="8.5" text-anchor="start" fill="#222" stroke="#222" stroke-width="0.27" font-weight="normal" >Sampling sites</text>
<text transform="translate(292.3,93.8) rotate(-90) scale(0.82,1)" font-size="7.9" fill="#222" stroke="#222" stroke-width="0.3">RI</text>
<text x="286.60" y="13.60" font-size="9.6" text-anchor="start" fill="#222" stroke="#222" stroke-width="0.27" font-weight="normal" >(b)</text>
<rect x="519.4" y="5.1" width="21.8" height="70.6" fill="#fff" stroke="#b8b8b8" stroke-width="0.8"/>
<rect x="520.2" y="5.90" width="12.2" height="6.9" fill="#f9e54c" stroke="#6a6a6a" stroke-width="0.7"/>
<text x="533.70" y="11.30" font-size="5.9" text-anchor="start" fill="#222" stroke="#222" stroke-width="0.08" font-weight="normal" >Sb</text>
<rect x="520.2" y="13.68" width="12.2" height="6.9" fill="#1cc4f0" stroke="#6a6a6a" stroke-width="0.7"/>
<text x="533.70" y="19.08" font-size="5.9" text-anchor="start" fill="#222" stroke="#222" stroke-width="0.08" font-weight="normal" >As</text>
<rect x="520.2" y="21.46" width="12.2" height="6.9" fill="#ff4515" stroke="#6a6a6a" stroke-width="0.7"/>
<text x="533.70" y="26.86" font-size="5.9" text-anchor="start" fill="#222" stroke="#222" stroke-width="0.08" font-weight="normal" >Hg</text>
<rect x="520.2" y="29.24" width="12.2" height="6.9" fill="#ff33ff" stroke="#6a6a6a" stroke-width="0.7"/>
<text x="533.70" y="34.64" font-size="5.9" text-anchor="start" fill="#222" stroke="#222" stroke-width="0.08" font-weight="normal" >Cr</text>
<rect x="520.2" y="37.02" width="12.2" height="6.9" fill="#0c1c7c" stroke="#6a6a6a" stroke-width="0.7"/>
<text x="533.70" y="42.42" font-size="5.9" text-anchor="start" fill="#222" stroke="#222" stroke-width="0.08" font-weight="normal" >Cd</text>
<rect x="520.2" y="44.80" width="12.2" height="6.9" fill="#cfcfcf" stroke="#6a6a6a" stroke-width="0.7"/>
<text x="533.70" y="50.20" font-size="5.9" text-anchor="start" fill="#222" stroke="#222" stroke-width="0.08" font-weight="normal" >Pb</text>
<rect x="520.2" y="52.58" width="12.2" height="6.9" fill="#ff9a00" stroke="#6a6a6a" stroke-width="0.7"/>
<text x="533.70" y="57.98" font-size="5.9" text-anchor="start" fill="#222" stroke="#222" stroke-width="0.08" font-weight="normal" >Cu</text>
<rect x="520.2" y="60.36" width="12.2" height="6.9" fill="#0a8a14" stroke="#6a6a6a" stroke-width="0.7"/>
<text x="533.70" y="65.76" font-size="5.9" text-anchor="start" fill="#222" stroke="#222" stroke-width="0.08" font-weight="normal" >Zn</text>
<rect x="520.2" y="68.14" width="12.2" height="6.9" fill="#cc99ee" stroke="#6a6a6a" stroke-width="0.7"/>
<text x="533.70" y="73.54" font-size="5.9" text-anchor="start" fill="#222" stroke="#222" stroke-width="0.08" font-weight="normal" >Ni</text>
<rect x="161.8" y="192.20" width="21.6" height="12.2" fill="#ffff00" stroke="#a0a0a0" stroke-width="0.8"/>
<text x="186.30" y="202.60" font-size="9.9" text-anchor="start" fill="#222" stroke="#222" stroke-width="0.27" font-weight="normal" >Slightly polluted</text>
<rect x="161.8" y="205.70" width="21.6" height="12.2" fill="#ff00ff" stroke="#a0a0a0" stroke-width="0.8"/>
<text x="187.30" y="216.10" font-size="9.9" text-anchor="start" fill="#222" stroke="#222" stroke-width="0.27" font-weight="normal" >Moderately polluted</text>
<rect x="161.8" y="219.20" width="21.6" height="12.2" fill="#ff0000" stroke="#a0a0a0" stroke-width="0.8"/>
<text x="188.30" y="229.60" font-size="9.9" text-anchor="start" fill="#222" stroke="#222" stroke-width="0.27" font-weight="normal" >Severely polluted</text>
<rect x="451.2" y="192.20" width="19" height="10.4" fill="#00b0f0" stroke="#a0a0a0" stroke-width="0.8"/>
<text x="475.80" y="200.10" font-size="9.5" text-anchor="start" fill="#222" stroke="#222" stroke-width="0.27" font-weight="normal" >Low risk</text>
<rect x="451.2" y="203.85" width="19" height="10.4" fill="#ffff00" stroke="#a0a0a0" stroke-width="0.8"/>
<text x="475.00" y="211.65" font-size="9.5" text-anchor="start" fill="#222" stroke="#222" stroke-width="0.27" font-weight="normal" >Moderate risk</text>
<rect x="451.2" y="215.50" width="19" height="10.4" fill="#ff00ff" stroke="#a0a0a0" stroke-width="0.8"/>
<text x="475.00" y="223.20" font-size="9.5" text-anchor="start" fill="#222" stroke="#222" stroke-width="0.27" font-weight="normal" >Considerable risk</text>
<rect x="451.2" y="227.15" width="19" height="10.4" fill="#ee0000" stroke="#a0a0a0" stroke-width="0.8"/>
<text x="475.00" y="234.75" font-size="9.5" text-anchor="start" fill="#222" stroke="#222" stroke-width="0.27" font-weight="normal" >Very high risk</text>
<path d="M199.80,268.70 A54.5,33 0 0 1 191.01,286.67 L191.01,303.17 A54.5,33 0 0 0 199.80,285.20 Z" fill="#ff0000" stroke="#7a0000" stroke-width="0.5" stroke-linejoin="round"/>
<path d="M191.01,286.67 A54.5,33 0 0 1 178.93,294.67 L178.93,311.17 A54.5,33 0 0 0 191.01,303.17 Z" fill="#ffff00" stroke="#7a0000" stroke-width="0.5" stroke-linejoin="round"/>
<path d="M178.93,294.67 A54.5,33 0 0 1 154.48,301.23 L154.48,317.73 A54.5,33 0 0 0 178.93,311.17 Z" fill="#ff00ff" stroke="#7a0000" stroke-width="0.5" stroke-linejoin="round"/>
<path d="M154.48,301.23 A54.5,33 0 0 1 90.80,268.70 L90.80,285.20 A54.5,33 0 0 0 154.48,317.73 Z" fill="#ff0000" stroke="#7a0000" stroke-width="0.5" stroke-linejoin="round"/>
<path d="M145.30,268.70 L191.01,286.67 A54.5,33 0 0 1 178.93,294.67 Z" fill="#ffff00" stroke="#7a0000" stroke-width="0.5" stroke-linejoin="round"/>
<path d="M145.30,268.70 L178.93,294.67 A54.5,33 0 0 1 154.48,301.23 Z" fill="#ff00ff" stroke="#7a0000" stroke-width="0.5" stroke-linejoin="round"/>
<path d="M145.30,268.70 L154.48,301.23 A54.5,33 0 1 1 191.01,286.67 Z" fill="#ff0000" stroke="#7a0000" stroke-width="0.5" stroke-linejoin="round"/>
<text x="79.00" y="240.70" font-size="10.1" text-anchor="start" fill="#222" stroke="#222" stroke-width="0.27" font-weight="normal" >86.85%</text>
<text x="189.60" y="311.40" font-size="10.1" text-anchor="start" fill="#222" stroke="#222" stroke-width="0.27" font-weight="normal" >5.26%</text>
<text x="164.00" y="325.10" font-size="10.1" text-anchor="start" fill="#222" stroke="#222" stroke-width="0.27" font-weight="normal" >7.89%</text>
<defs><linearGradient id="sg" x1="0" y1="0" x2="1" y2="0"><stop offset="0" stop-color="#c80000"/><stop offset="0.55" stop-color="#8a0000"/><stop offset="1" stop-color="#4a0000"/></linearGradient></defs>
<path d="M460.95,289.81 A50.8,30.5 0 0 1 363.60,277.60 L363.60,293.10 A50.8,30.5 0 0 0 460.95,305.31 Z" fill="url(#sg)" stroke="#400000" stroke-width="0.5" stroke-linejoin="round"/>
<path d="M465.03,280.10 A50.8,30.5 0 0 1 460.95,289.81 L460.95,305.31 A50.8,30.5 0 0 0 465.03,295.60 Z" fill="#800080" stroke="#400000" stroke-width="0.5" stroke-linejoin="round"/>
<path d="M465.20,277.60 A50.8,30.5 0 0 1 465.03,280.10 L465.03,295.60 A50.8,30.5 0 0 0 465.20,293.10 Z" fill="#a0a000" stroke="#400000" stroke-width="0.5" stroke-linejoin="round"/>
<path d="M414.40,277.60 L414.40,247.10 A50.8,30.5 0 0 1 460.92,265.34 Z" fill="#1ec0f8" stroke="#3a0000" stroke-width="0.5" stroke-linejoin="round"/>
<path d="M414.40,277.60 L460.92,265.34 A50.8,30.5 0 0 1 465.03,280.10 Z" fill="#ffff00" stroke="#3a0000" stroke-width="0.5" stroke-linejoin="round"/>
<path d="M414.40,277.60 L465.03,280.10 A50.8,30.5 0 0 1 460.95,289.81 Z" fill="#ff00ff" stroke="#3a0000" stroke-width="0.5" stroke-linejoin="round"/>
<path d="M414.40,277.60 L460.95,289.81 A50.8,30.5 0 1 1 414.40,247.10 Z" fill="#f00000" stroke="#3a0000" stroke-width="0.5" stroke-linejoin="round"/>
<text x="418.30" y="241.80" font-size="10.1" text-anchor="start" fill="#222" stroke="#222" stroke-width="0.27" font-weight="normal" >18.42%</text>
<text x="467.70" y="270.20" font-size="10.1" text-anchor="start" fill="#222" stroke="#222" stroke-width="0.27" font-weight="normal" >7.89%</text>
<text x="467.70" y="291.60" font-size="10.1" text-anchor="start" fill="#222" stroke="#222" stroke-width="0.27" font-weight="normal" >5.26%</text>
<text x="335.70" y="312.40" font-size="10.1" text-anchor="start" fill="#222" stroke="#222" stroke-width="0.27" font-weight="normal" >68.42%</text>
<text x="15.1" y="336.9" font-size="9.62" fill="#1a1a1a" stroke="#1a1a1a" stroke-width="0.3">The proportions of P<tspan font-size="6.4" dx="0.9" dy="2.0">s</tspan><tspan dx="0.3" dy="-2.0"> levels of sampling sites in all sampling sites</tspan></text>
<text x="286.80" y="337.90" font-size="9.69" text-anchor="start" fill="#222" stroke="#222" stroke-width="0.27" font-weight="normal" >The proportions of RI levels of sampling sites in all sampling sites</text>
</svg>
</body></html>
